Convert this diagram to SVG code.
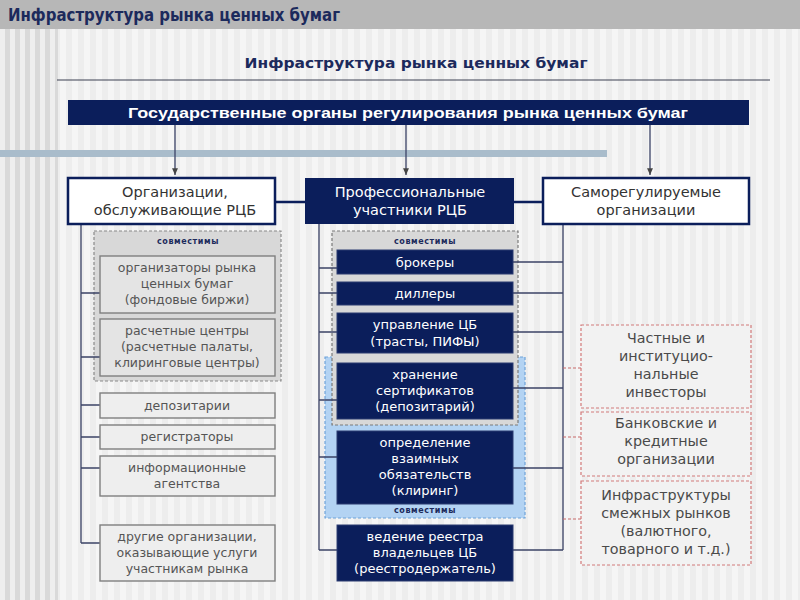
<svg xmlns="http://www.w3.org/2000/svg" width="800" height="600" viewBox="0 0 800 600">
<defs>
<pattern id="stripes" patternUnits="userSpaceOnUse" width="12" height="10">
<rect width="12" height="10" fill="#f5f5f5"/>
<rect x="6" width="6" height="10" fill="#ededed"/>
</pattern>
<pattern id="stripesL" patternUnits="userSpaceOnUse" width="10" height="10">
<rect width="10" height="10" fill="#eeeeee"/>
<rect x="5" width="5" height="10" fill="#d9d9d9"/>
</pattern>
<marker id="arr" viewBox="0 0 8 8" refX="7" refY="4" markerWidth="6" markerHeight="6" orient="auto">
<path d="M0,1 L7,4 L0,7 z" fill="#444"/>
</marker>
<style>
text{font-family:"DejaVu Sans","Liberation Sans",sans-serif;text-anchor:middle}
.hdr{fill:#1c2a5c;font-weight:bold;text-anchor:start}
.title{fill:#1c2a5c;font-weight:bold;font-size:14px}
.wt{fill:#ffffff}
.grtxt{fill:#555555;font-size:12.5px}
.rtxt{fill:#4a4a4a;font-size:14.3px}
.comp{fill:#1c2a5c;font-weight:bold;font-size:8px;letter-spacing:0.6px}
.ob{fill:#ffffff;stroke:#0b1e5b;stroke-width:2.5}
.gbox{fill:#e4e4e4;stroke:#7f7f7f;stroke-width:1.4}
.lbox{fill:#eeeeee;stroke:#7f7f7f;stroke-width:1.4}
.dbox{fill:#0b1e5b;stroke:#2a3a70;stroke-width:1}
.rbox{fill:#f2f2f2;stroke:#d27a7a;stroke-width:1.2;stroke-dasharray:3 2}
.ln{stroke:#3b4366;stroke-width:1.3;fill:none}
.rln{stroke:#c86a6a;stroke-width:1.2;stroke-dasharray:3 2;fill:none}
</style>
</defs>

<!-- background -->
<rect width="800" height="600" fill="url(#stripes)"/>
<rect x="0" y="29" width="58" height="571" fill="url(#stripesL)"/>
<rect x="0" y="0" width="800" height="29" fill="#b7b7b7"/>
<text class="hdr" x="8" y="21" font-size="17.5" textLength="332" lengthAdjust="spacingAndGlyphs">Инфраструктура рынка ценных бумаг</text>

<text class="title" x="416" y="68" textLength="343" lengthAdjust="spacingAndGlyphs">Инфраструктура рынка ценных бумаг</text>
<line x1="57" y1="80" x2="770" y2="80" stroke="#3d4152" stroke-width="1.2"/>
<rect x="0" y="150" width="607" height="7" fill="#a9bccb"/>

<!-- groups backgrounds -->
<g id="group-left-compatible">
<rect x="94" y="231" width="187" height="150" fill="#d8d8d8" stroke="#8a8a8a" stroke-width="1.2" stroke-dasharray="3 2"/>
<text class="comp" x="188" y="244">совместимы</text>
</g>
<g id="group-blue-compatible">
<rect x="325" y="357" width="200" height="161" fill="#b3d3f3" stroke="#6fa3d9" stroke-width="1.2" stroke-dasharray="3 2"/>
<text class="comp" x="425" y="513">совместимы</text>
</g>
<g id="group-mid-compatible">
<rect x="332" y="231" width="186" height="194" fill="#d8d8d8" stroke="#7a7a7a" stroke-width="1.2" stroke-dasharray="3 2"/>
<text class="comp" x="425" y="244">совместимы</text>
</g>

<!-- connectors -->
<g id="connectors">
<line class="ln" x1="175" y1="125" x2="175" y2="175" marker-end="url(#arr)" stroke-width="1"/>
<line class="ln" x1="406" y1="125" x2="406" y2="175" marker-end="url(#arr)" stroke-width="1"/>
<line class="ln" x1="650" y1="125" x2="650" y2="175" marker-end="url(#arr)" stroke-width="1"/>
<line x1="275" y1="202" x2="305" y2="202" stroke="#0b1e5b" stroke-width="2.5"/>
<line x1="514" y1="202" x2="543" y2="202" stroke="#0b1e5b" stroke-width="2.5"/>
<path class="ln" d="M81,224 V543 M81,293 H100 M81,357 H100 M81,405 H100 M81,437 H100 M81,468 H100 M81,543 H100"/>
<path class="ln" d="M319,224 V550 M319,268 H337 M319,293 H337 M319,332 H337 M319,400 H337 M319,457 H337 M319,550 H337"/>
<path class="ln" d="M563,224 V550 M513,262 H563 M513,293 H563 M513,332 H563 M513,388 H563 M513,468 H563 M513,550 H563"/>
<path class="rln" d="M563,368 H581 M563,437 H581 M563,519 H581"/>
</g>

<!-- top box -->
<g id="gov">
<rect x="68" y="100" width="681" height="25" fill="#0b1e5b"/>
<text x="408" y="118" fill="#ffffff" font-weight="bold" font-size="15.5" style="font-family:'Liberation Sans',sans-serif" textLength="560" lengthAdjust="spacingAndGlyphs">Государственные органы регулирования рынка ценных бумаг</text>
</g>

<!-- three main boxes -->
<g id="org-service">
<rect class="ob" x="68" y="178" width="207" height="46"/>
<text x="175" y="197" fill="#333" font-size="14.5">Организации,</text>
<text x="175" y="215" fill="#333" font-size="14.5">обслуживающие РЦБ</text>
</g>
<g id="prof">
<rect x="305" y="178" width="209" height="46" fill="#0b1e5b"/>
<text class="wt" x="410" y="197" font-size="14.5">Профессиональные</text>
<text class="wt" x="410" y="215" font-size="14.5">участники РЦБ</text>
</g>
<g id="sro">
<rect class="ob" x="543" y="178" width="206" height="46"/>
<text x="646" y="197" fill="#333" font-size="14.5">Саморегулируемые</text>
<text x="646" y="215" fill="#333" font-size="14.5">организации</text>
</g>

<!-- left column boxes -->
<g id="birzhi">
<rect class="gbox" x="100" y="256" width="175" height="57"/>
<text class="grtxt" x="187" y="272">организаторы рынка</text>
<text class="grtxt" x="187" y="288">ценных бумаг</text>
<text class="grtxt" x="187" y="304">(фондовые биржи)</text>
</g>
<g id="raschet">
<rect class="gbox" x="100" y="319" width="175" height="57"/>
<text class="grtxt" x="187" y="335">расчетные центры</text>
<text class="grtxt" x="187" y="351">(расчетные палаты,</text>
<text class="grtxt" x="187" y="367">клиринговые центры)</text>
</g>
<g id="depozitarii">
<rect class="lbox" x="100" y="393" width="175" height="25"/>
<text class="grtxt" x="187" y="410">депозитарии</text>
</g>
<g id="registratory">
<rect class="lbox" x="100" y="425" width="175" height="24"/>
<text class="grtxt" x="187" y="441">регистраторы</text>
</g>
<g id="info">
<rect class="lbox" x="100" y="456" width="175" height="40"/>
<text class="grtxt" x="187" y="472">информационные</text>
<text class="grtxt" x="187" y="488">агентства</text>
</g>
<g id="drugie">
<rect class="lbox" x="100" y="525" width="175" height="56"/>
<text class="grtxt" x="187" y="541">другие организации,</text>
<text class="grtxt" x="187" y="557">оказывающие услуги</text>
<text class="grtxt" x="187" y="573">участникам рынка</text>
</g>

<!-- middle column boxes -->
<g id="brokery">
<rect class="dbox" x="337" y="250" width="176" height="24"/>
<text class="wt" x="425" y="267" font-size="13">брокеры</text>
</g>
<g id="dilery">
<rect class="dbox" x="337" y="282" width="176" height="23"/>
<text class="wt" x="425" y="298" font-size="13">диллеры</text>
</g>
<g id="upravlenie">
<rect class="dbox" x="337" y="313" width="176" height="40"/>
<text class="wt" x="425" y="329" font-size="13">управление ЦБ</text>
<text class="wt" x="425" y="346" font-size="13">(трасты, ПИФЫ)</text>
</g>
<g id="hranenie">
<rect class="dbox" x="337" y="363" width="176" height="56"/>
<text class="wt" x="425" y="379" font-size="13">хранение</text>
<text class="wt" x="425" y="395" font-size="13">сертификатов</text>
<text class="wt" x="425" y="411" font-size="13">(депозитарий)</text>
</g>
<g id="kliring">
<rect class="dbox" x="337" y="431" width="176" height="73"/>
<text class="wt" x="425" y="447" font-size="13">определение</text>
<text class="wt" x="425" y="463" font-size="13">взаимных</text>
<text class="wt" x="425" y="479" font-size="13">обязательств</text>
<text class="wt" x="425" y="495" font-size="13">(клиринг)</text>
</g>
<g id="reestr">
<rect class="dbox" x="337" y="525" width="176" height="56"/>
<text class="wt" x="425" y="541" font-size="13">ведение реестра</text>
<text class="wt" x="425" y="557" font-size="13">владельцев ЦБ</text>
<text class="wt" x="425" y="573" font-size="13">(реестродержатель)</text>
</g>

<!-- right column boxes -->
<g id="investory">
<rect class="rbox" x="581" y="325" width="170" height="83"/>
<text class="rtxt" x="666" y="343">Частные и</text>
<text class="rtxt" x="666" y="361">институцио-</text>
<text class="rtxt" x="666" y="379">нальные</text>
<text class="rtxt" x="666" y="397">инвесторы</text>
</g>
<g id="banki">
<rect class="rbox" x="581" y="412" width="170" height="64"/>
<text class="rtxt" x="666" y="428">Банковские и</text>
<text class="rtxt" x="666" y="446">кредитные</text>
<text class="rtxt" x="666" y="464">организации</text>
</g>
<g id="smezhnye">
<rect class="rbox" x="581" y="481" width="170" height="84"/>
<text class="rtxt" x="666" y="500">Инфраструктуры</text>
<text class="rtxt" x="666" y="518">смежных рынков</text>
<text class="rtxt" x="666" y="536">(валютного,</text>
<text class="rtxt" x="666" y="554">товарного и т.д.)</text>
</g>
</svg>
